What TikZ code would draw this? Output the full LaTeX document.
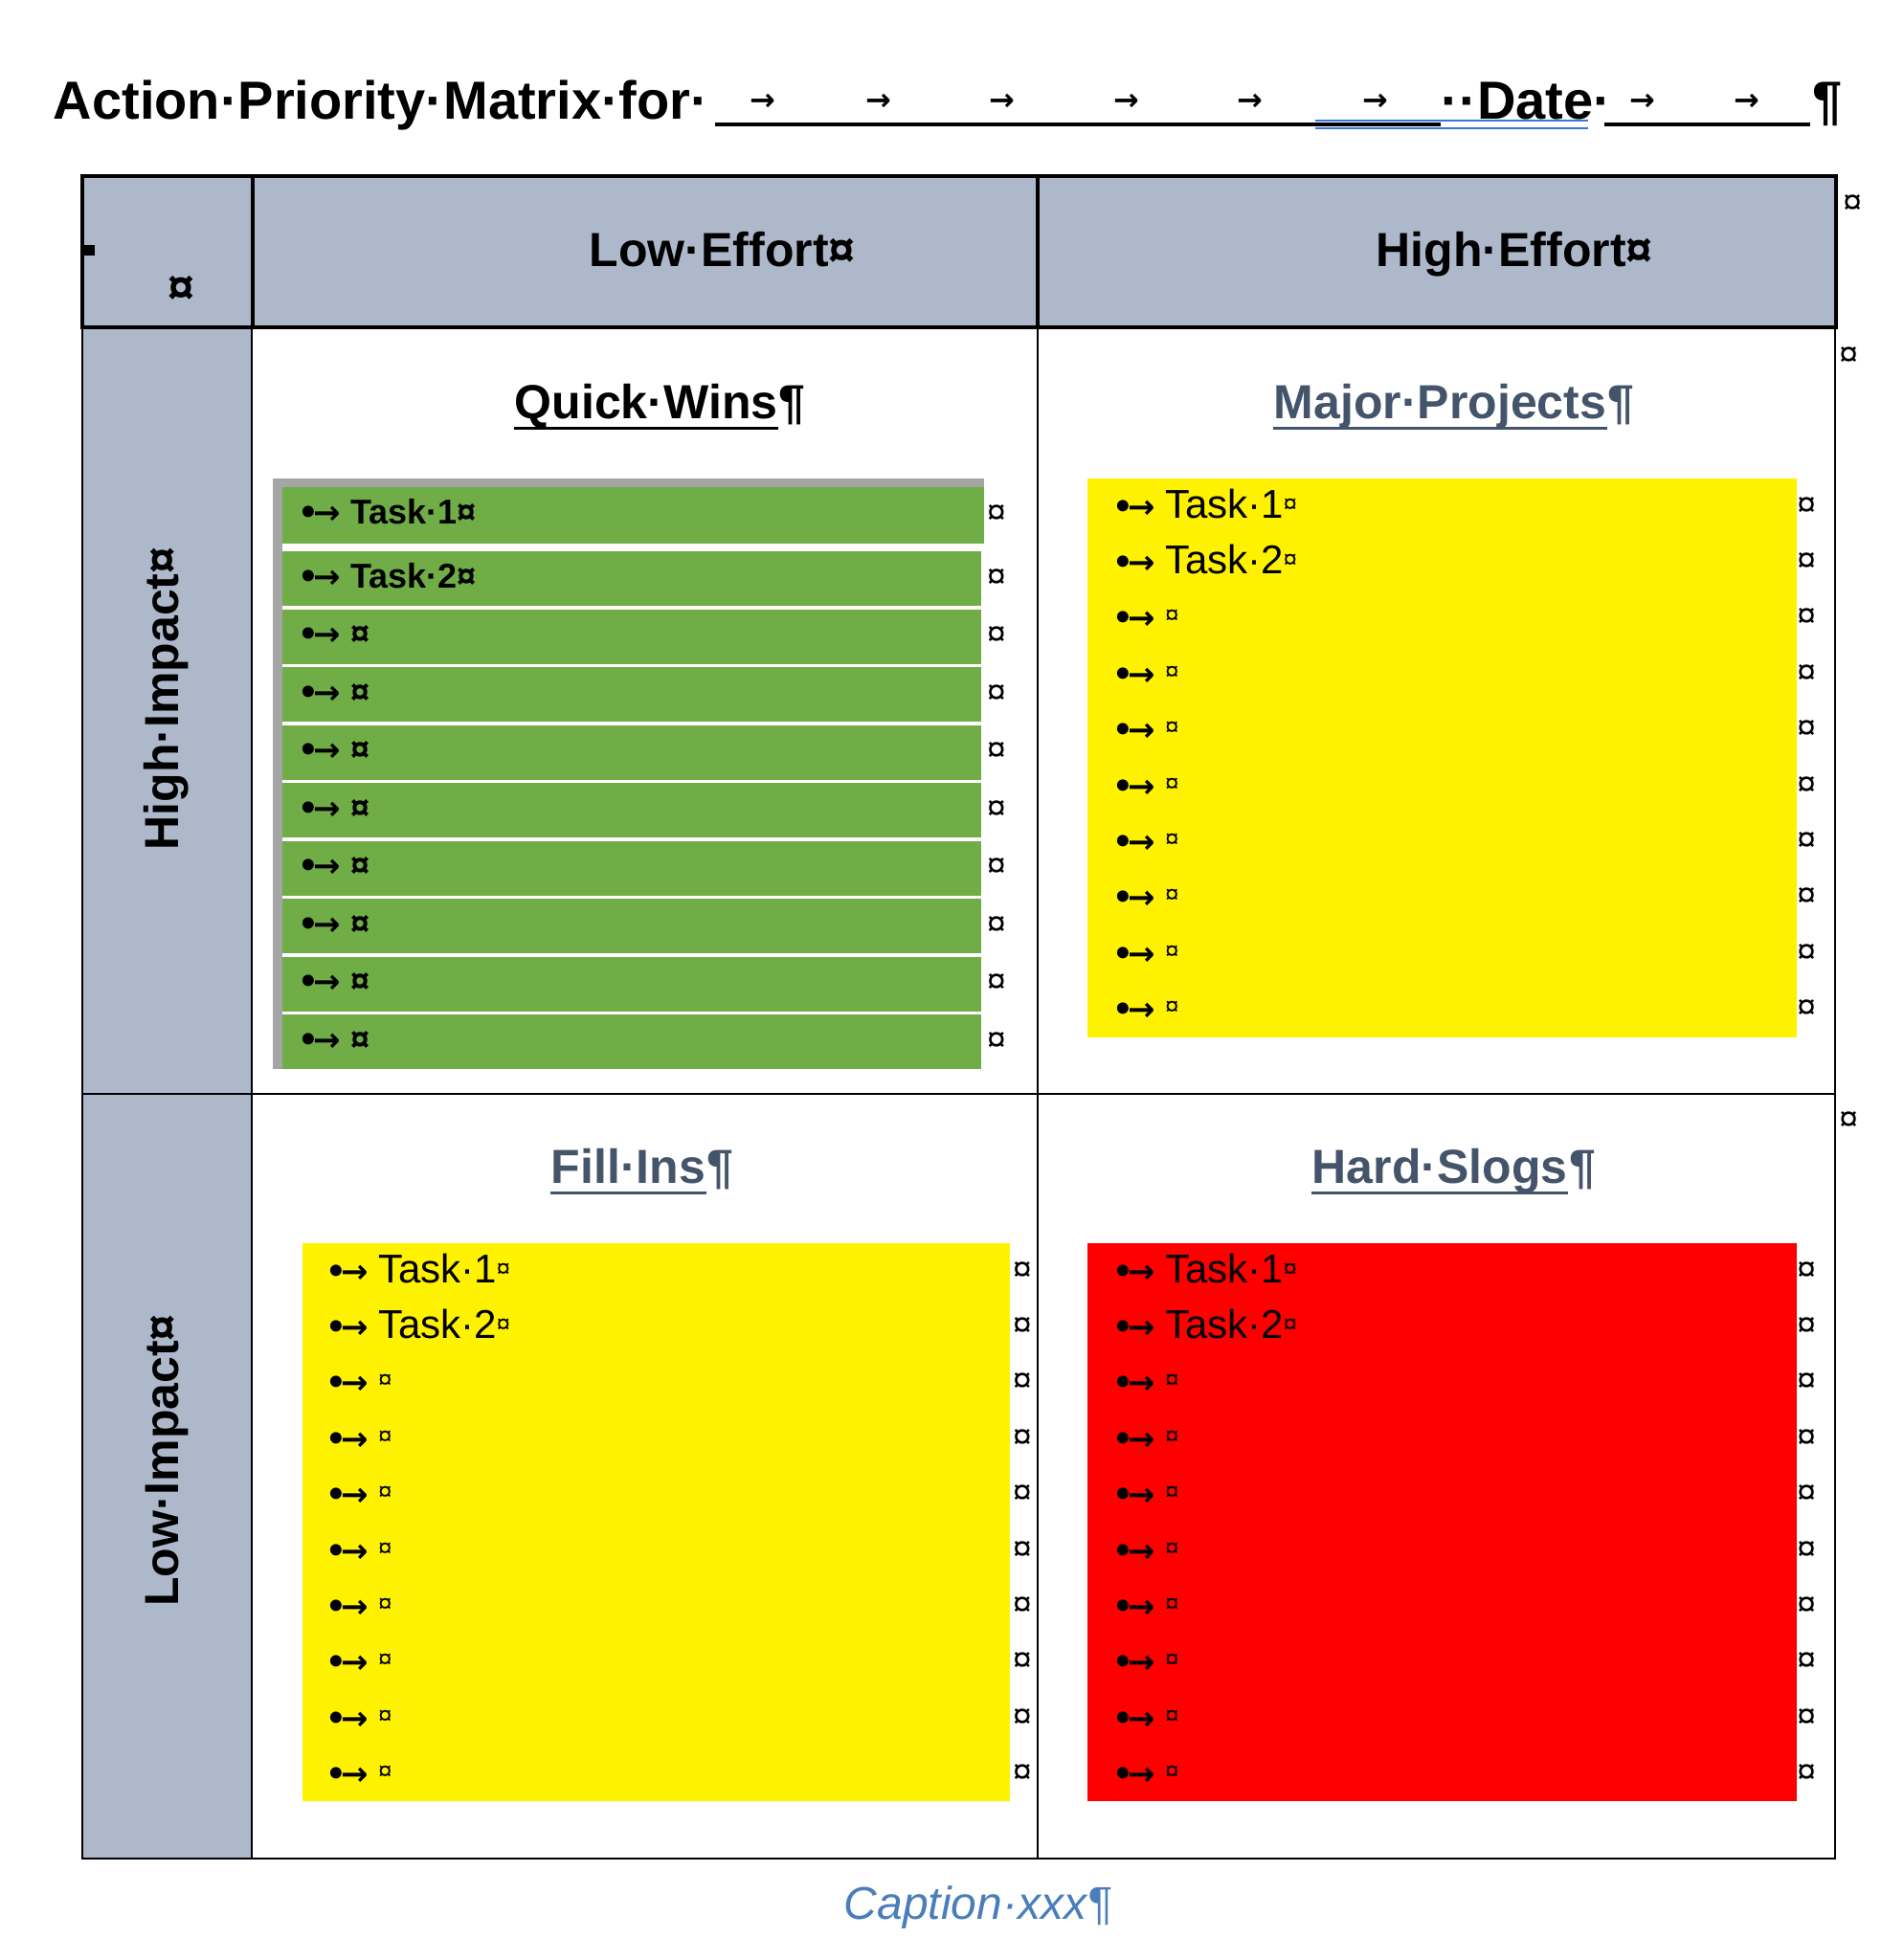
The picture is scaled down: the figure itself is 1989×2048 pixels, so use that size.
\documentclass[tikz,border=0pt]{standalone}
\usepackage{fontspec}
\setmainfont{Liberation Sans}
\newfontfamily\arrowfont{DejaVu Sans}
\usepackage{xcolor}
\usetikzlibrary{positioning}

\definecolor{hdrblue}{HTML}{ADB9CA}
\definecolor{qwgreen}{HTML}{70AD47}
\definecolor{framegray}{HTML}{A5A5A5}
\definecolor{slate}{HTML}{44546A}
\definecolor{capblue}{HTML}{4A7EBB}
\definecolor{markblue}{HTML}{3A76D8}

\newcommand\tabmark{{\arrowfont\bfseries\fontsize{8}{8}\selectfont →}}
\newcommand\bultab{{\arrowfont\bfseries\fontsize{8.5}{9}\selectfont •\hspace{-1.5pt}→}\hspace{2.5pt}}
\newcommand\cellmark{\raisebox{1.5pt}{\fontsize{6.5}{7}\selectfont ¤}}

\begin{document}
\begin{tikzpicture}[x=0.25pt,y=-0.25pt,every node/.style={inner sep=0pt},
    title/.style={font=\bfseries\fontsize{14}{16}\selectfont,anchor=base west},
    colhead/.style={font=\bfseries\fontsize{12.5}{15}\selectfont,anchor=base west},
    rowhead/.style={font=\bfseries\fontsize{12.5}{15}\selectfont,rotate=90},
    quad/.style={font=\bfseries\fontsize{12.5}{15}\selectfont,anchor=base west,text=slate},
    gtask/.style={font=\bfseries\fontsize{9}{11}\selectfont,anchor=base west},
    ytask/.style={font=\fontsize{10.5}{12}\selectfont,anchor=base west},
    endmark/.style={font=\fontsize{9}{11}\selectfont},
    tblline/.style={line width=0.5pt},
    hdrline/.style={line width=1.1pt}]
    \useasboundingbox (0,0) rectangle (1989,2048);

    \fill[hdrblue] (86,184) rectangle (1918,342);
    \fill[hdrblue] (86,342) rectangle (263,1942);

    \fill[framegray] (285,500) rectangle (1028,509);
    \fill[framegray] (285,500) rectangle (295,1117);
    \fill[qwgreen] (295,509) rectangle (1028,568);
    \foreach \k in {0,...,8}
        \fill[qwgreen] (295,{576+60.5*\k}) rectangle (1025,{633+60.5*\k});
    \fill[yellow] (1136,500) rectangle (1877,1084);
    \fill[yellow] (316,1299) rectangle (1055,1882);
    \fill[red] (1136,1299) rectangle (1877,1882);

    \draw[tblline] (86,342) -- (86,1942) -- (1917,1942) -- (1917,342);
    \draw[tblline] (263,342) -- (263,1942) (1084,342) -- (1084,1942) (86,1143) -- (1917,1143);
    \draw[hdrline] (86,184) rectangle (1918,342);
    \draw[hdrline] (264,184) -- (264,342) (1084,184) -- (1084,342);
    \fill (86,256) rectangle (99,267);

    \node[title] (ttl) at (55,124) {Action·Priority·Matrix·for·};
    \foreach \x [count=\i] in {797,918,1047,1177,1306,1437,1716,1825}
        \node (tab\i) at (\x,107) {\tabmark};
    \node[title] (date) at (1505,124) {··Date·};
    \node[title] (pil) at (1893,124) {¶};
    \draw[line width=1pt] (747,130) -- (1505,130);
    \draw[markblue,line width=0.5pt] (1374,126) -- (1659,126) (1374,134) -- (1659,134);
    \draw[line width=1pt] (1676,130) -- (1891,130);

    \node[colhead] (loweff) at (615,278) {Low·Effort¤};
    \node[colhead] (higheff) at (1437,278) {High·Effort¤};
    \node[colhead,anchor=center] (corner) at (189,303) {¤};
    \node[rowhead] (highimp) at (174,730) {High·Impact¤};
    \node[rowhead] (lowimp) at (174,1526) {Low·Impact¤};

    \node[quad,text=black] (qw) at (537,437) {Quick·Wins};
    \node[quad,text=black,base right=0pt of qw] (qwp) {¶};
    \node[quad] (mp) at (1330,437) {Major·Projects};
    \node[quad,base right=0pt of mp] (mpp) {¶};
    \node[quad] (fi) at (575,1236) {Fill·Ins};
    \node[quad,base right=0pt of fi] (fip) {¶};
    \node[quad] (hs) at (1370,1236) {Hard·Slogs};
    \node[quad,base right=0pt of hs] (hsp) {¶};
    \draw[line width=0.75pt] ([yshift=-2.5pt]qw.base west) -- ([yshift=-2.5pt]qw.base east);
    \draw[slate,line width=0.75pt] ([yshift=-2.5pt]mp.base west) -- ([yshift=-2.5pt]mp.base east);
    \draw[slate,line width=0.75pt] ([yshift=-2.5pt]fi.base west) -- ([yshift=-2.5pt]fi.base east);
    \draw[slate,line width=0.75pt] ([yshift=-2.5pt]hs.base west) -- ([yshift=-2.5pt]hs.base east);

    \node[gtask] (qw-1) at (311,547) {\bultab Task·1¤};
    \node[gtask] (qw-2) at (311,614) {\bultab Task·2¤};
    \foreach \k in {3,...,10}
        \node[gtask] (qw-\k) at (311,{614+60.5*(\k-2)}) {\bultab{}¤};
    \node[endmark] (qw-e1) at (1041,537) {¤};
    \foreach \k in {2,...,10}
        \node[endmark] (qw-e\k) at (1041,{604+60.5*(\k-2)}) {¤};

    \foreach \qx/\qy/\ex/\qn in {1162/541/1887/mp, 340/1340/1068/fi, 1162/1340/1887/hs}{
        \node[ytask] (\qn-1) at (\qx,\qy) {\bultab Task·1\cellmark};
        \node[ytask] (\qn-2) at (\qx,{\qy+58.4}) {\bultab Task·2\cellmark};
        \foreach \k in {3,...,10}
            \node[ytask] (\qn-\k) at (\qx,{\qy+58.4*(\k-1)}) {\bultab\cellmark};
        \foreach \k in {1,...,10}
            \node[endmark] (\qn-e\k) at (\ex,{\qy-12+58.4*(\k-1)}) {¤};
    }

    \node[endmark] (rm1) at (1935,213) {¤};
    \node[endmark] (rm2) at (1931,372) {¤};
    \node[endmark] (rm3) at (1931,1171) {¤};

    \node[font=\itshape\fontsize{12}{14}\selectfont,text=capblue,anchor=base west] (cap) at (881,2005) {Caption·xxx¶};
\end{tikzpicture}
\end{document}
